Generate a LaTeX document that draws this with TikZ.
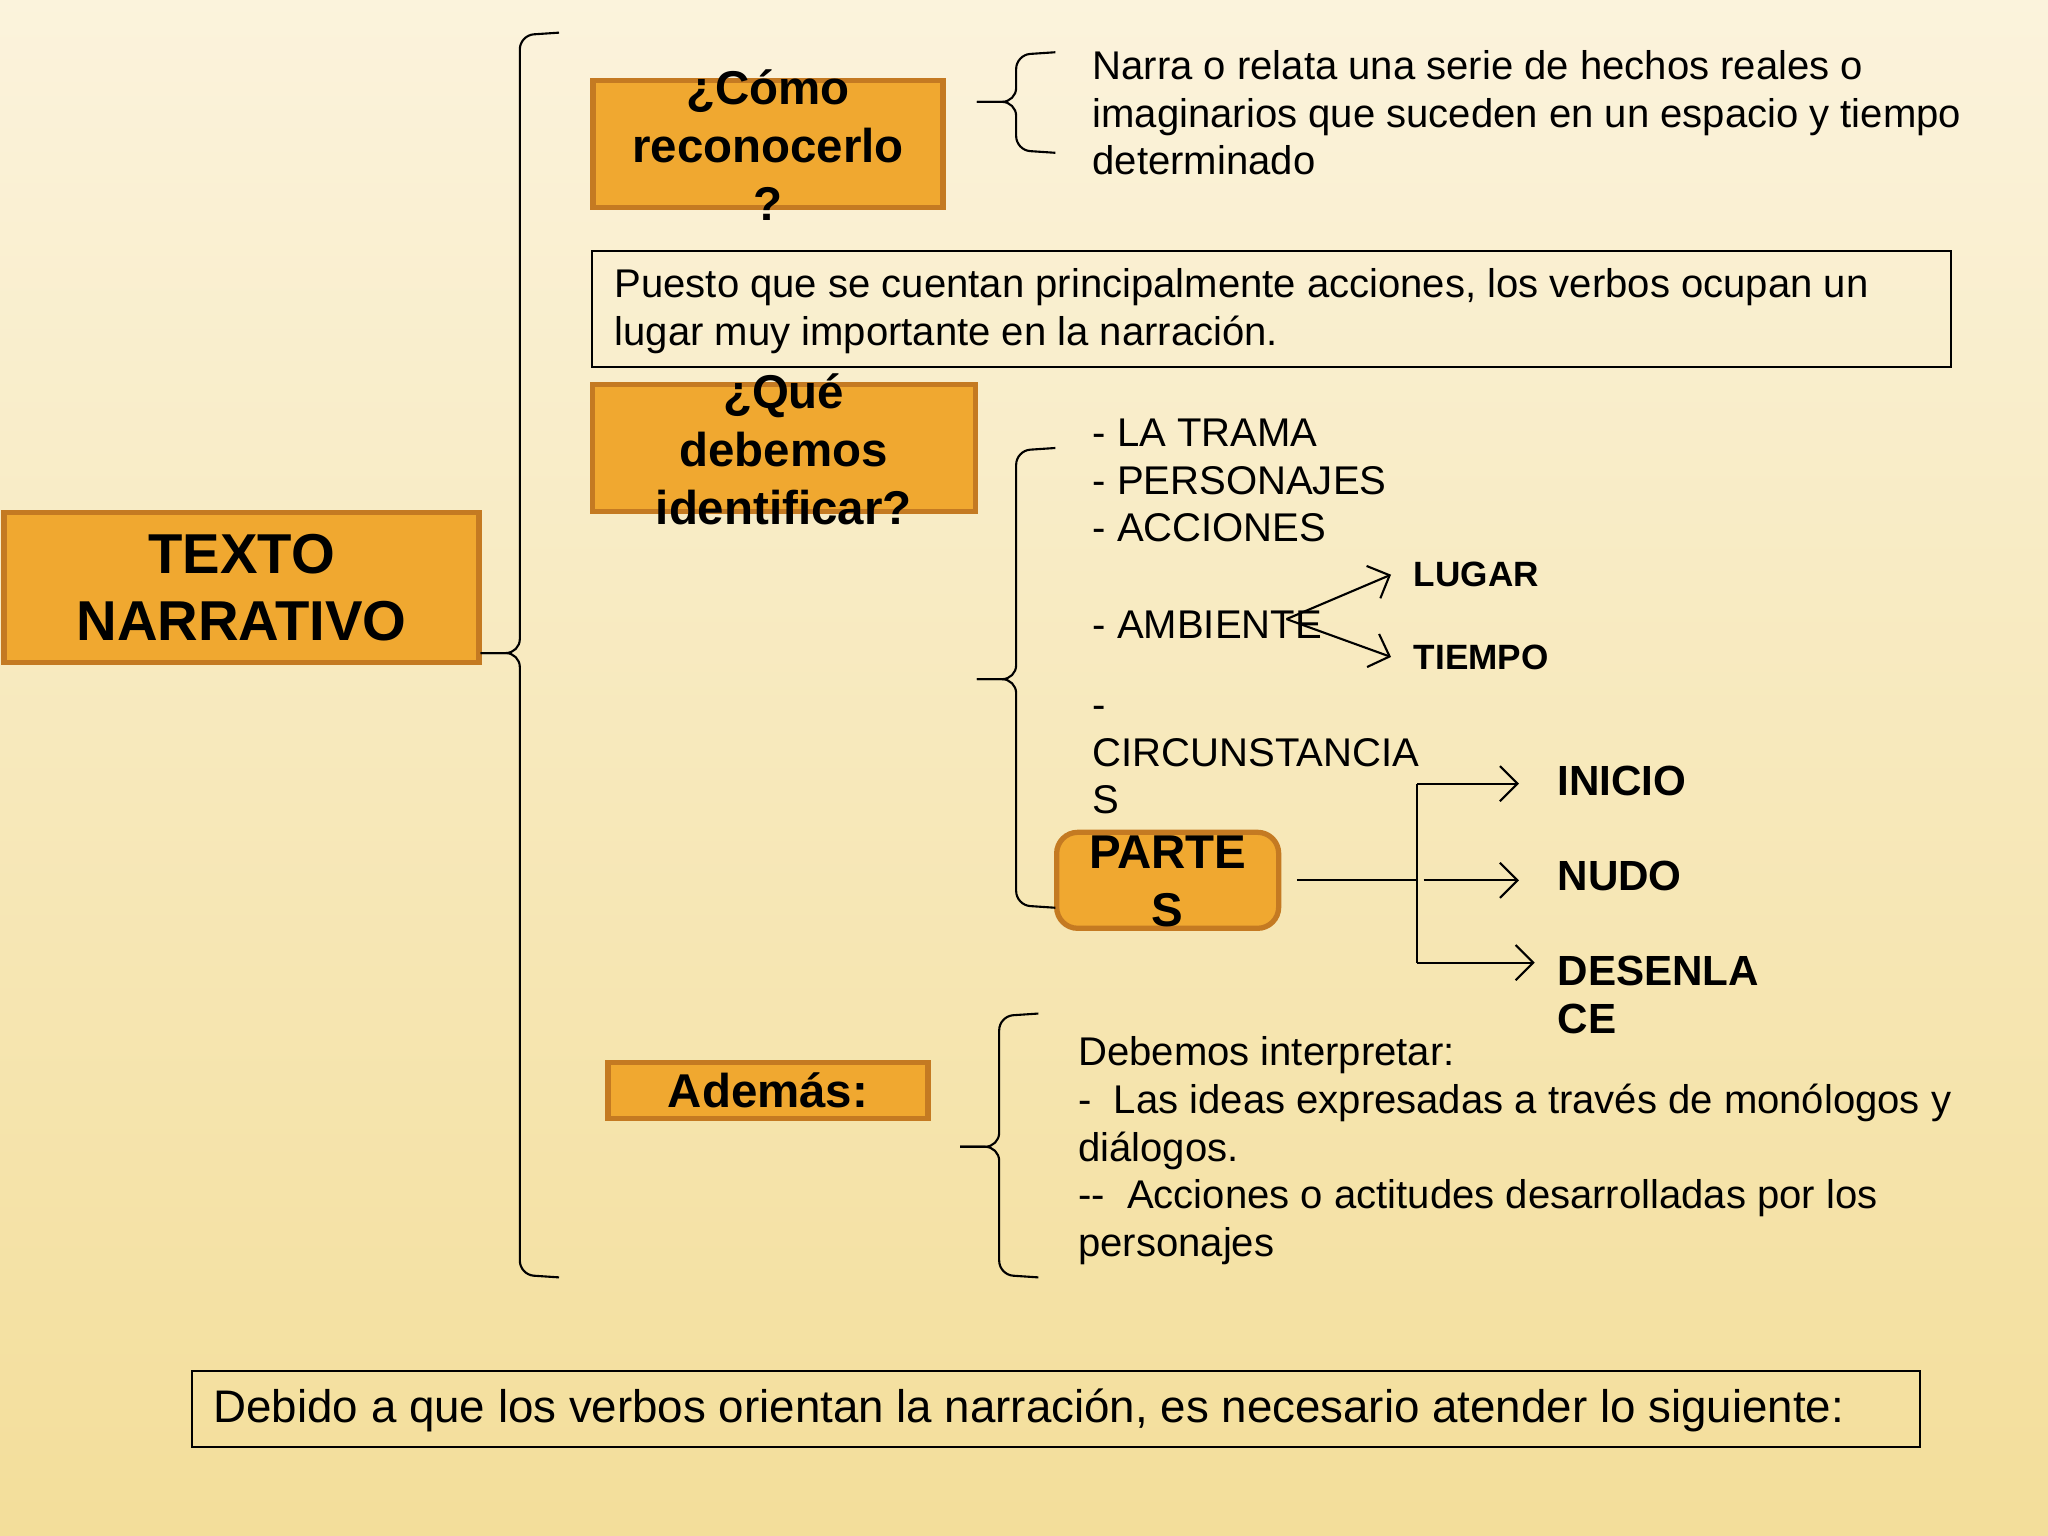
\documentclass[tikz,border=0pt]{standalone}
\usepackage{fontspec}
\setmainfont{Liberation Sans}
\usetikzlibrary{arrows.meta}
\definecolor{orangebox}{HTML}{F0A830}
\definecolor{orangeline}{HTML}{C47A22}
\definecolor{bgtop}{HTML}{FBF3DC}
\definecolor{bgbot}{HTML}{F3DE9A}
\tikzset{
  titlebox/.style={draw=orangeline,line width=1.5pt,fill=orangebox,align=center,inner sep=0pt,font=\bfseries\fontsize{13.5}{16.5}\selectfont},
  listtext/.style={align=left,anchor=north west,inner sep=0pt,font=\fontsize{11.4}{13.6}\selectfont},
  smallbold/.style={anchor=west,inner sep=0pt,font=\bfseries\fontsize{10}{12}\selectfont},
  partbold/.style={anchor=west,inner sep=0pt,align=left,font=\bfseries\fontsize{12}{13.6}\selectfont},
  arr/.style={-{Straight Barb[length=5pt]},line width=0.6pt}
}
% overflowing text inside a box
\newcommand{\flowtext}[2]{\smash{\raisebox{-4pt}{\parbox[c]{#1}{\centering #2}}}}
% bracket: x of stem, top y, tip y, bottom y
\newcommand{\bracketline}[4]{%
  \draw[line width=0.6pt,rounded corners=4pt] (#1+30,#2) -- (#1,#2+2) -- (#1,#3) -- (#1-30,#3);
  \draw[line width=0.6pt,rounded corners=4pt] (#1-30,#3) -- (#1,#3) -- (#1,#4-2) -- (#1+30,#4);}
\begin{document}
\begin{tikzpicture}[x=0.01306cm,y=-0.01306cm]
  \shade[top color=bgtop,bottom color=bgbot] (0,0) rectangle (1568,1176);
  \useasboundingbox (0,0) rectangle (1568,1176);
  % main blocks
  \node[titlebox,minimum width=4.75cm,minimum height=1.5cm,font=\bfseries\fontsize{16}{19}\selectfont]
    (texto) at (185,450) {TEXTO\\NARRATIVO};
  \node[titlebox,minimum width=3.5cm,minimum height=1.27cm] (como) at (588,110)
    {\flowtext{3.5cm}{¿Cómo\\reconocerlo\\?}};
  \node[titlebox,minimum width=3.83cm,minimum height=1.27cm] (que) at (600,343)
    {\flowtext{3.8cm}{¿Qué\\debemos\\identificar?}};
  \node[titlebox,rounded corners=6pt,minimum width=2.22cm,minimum height=0.96cm] (partes) at (894,674)
    {\flowtext{2.2cm}{PARTE\\S}};
  \node[titlebox,minimum width=3.2cm,minimum height=0.56cm] (ademas) at (588,835) {Además:};
  % text boxes
  \draw[line width=0.6pt] (453,192) rectangle (1494,281);
  \node[listtext] (puesto) at (470,205) {Puesto que se cuentan principalmente acciones, los verbos ocupan un\\lugar muy importante en la narración.};
  \draw[line width=0.6pt] (147,1050) rectangle (1470,1108);
  \node[anchor=west,inner sep=0pt,font=\fontsize{13}{16}\selectfont] (debido) at (163,1080) {Debido a que los verbos orientan la narración, es necesario atender lo siguiente:};
  % texts
  \node[listtext] (narra) at (836,38) {Narra o relata una serie de hechos reales o\\imaginarios que suceden en un espacio y tiempo\\determinado};
  \node[listtext] (lista) at (836,320) {- LA TRAMA\\- PERSONAJES\\- ACCIONES};
  \node[listtext] (ambiente) at (836,467) {- AMBIENTE};
  \node[listtext] (circ) at (836,540) {-\\CIRCUNSTANCIA\\S};
  \node[smallbold] (lugar) at (1082,440) {LUGAR};
  \node[smallbold] (tiempo) at (1082,503) {TIEMPO};
  \node[partbold] (inicio) at (1192,598) {INICIO};
  \node[partbold] (nudo) at (1192,671) {NUDO};
  \node[partbold] (desenlace) at (1192,762) {DESENLA\\CE};
  \node[listtext] (debemos) at (825,793) {Debemos interpretar:\\-\ \ Las ideas expresadas a través de monólogos y\\diálogos.\\-{}-\ \ Acciones o actitudes desarrolladas por los\\personajes};
  % brackets
  \bracketline{398}{25}{500}{978}
  \bracketline{778}{40}{78}{117}
  \bracketline{778}{343}{520}{695}
  \bracketline{765}{776}{878}{978}
  % arrows
  \coordinate (amb) at (985,474);
  \draw[arr] (amb) -- ([shift={(-17,0)}]lugar.west);
  \draw[arr] (amb) -- ([shift={(-17,0)}]tiempo.west);
  \coordinate (split) at (1085,674);
  \draw[line width=0.6pt] ([shift={(12,0)}]partes.east) -- (split);
  \draw[line width=0.6pt] (1085,600) -- (1085,737);
  \draw[arr] (1085,600) -- (1163,600);
  \draw[arr] (1090,674) -- (1163,674);
  \draw[arr] (1085,737) -- (1175,737);
\end{tikzpicture}
\end{document}
